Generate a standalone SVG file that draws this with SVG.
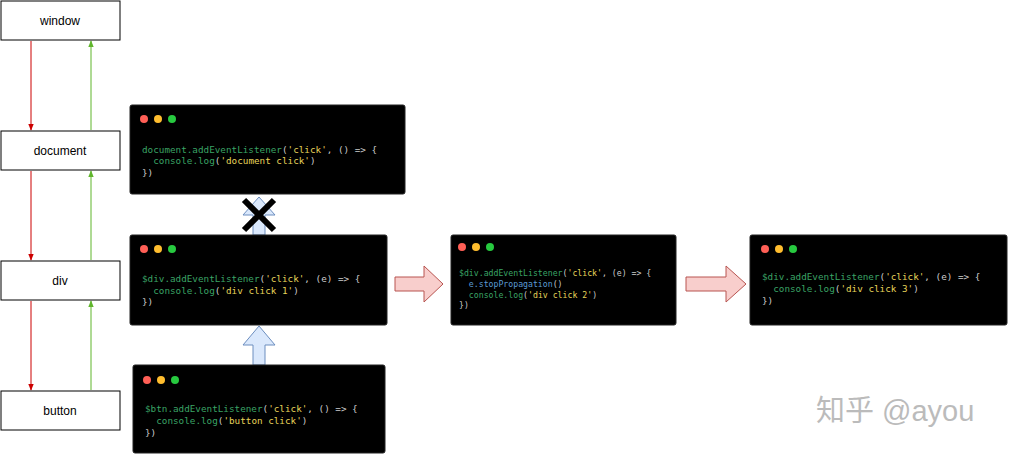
<svg xmlns="http://www.w3.org/2000/svg" width="1010" height="456" viewBox="0 0 1010 456">
<style>
.box{fill:#fff;stroke:#000;stroke-width:1}
.lbl{font-family:"Liberation Sans",Arial,sans-serif;font-size:12px;text-anchor:middle;fill:#000}
.code{fill:#000;stroke:#222}
.c{font-family:"DejaVu Sans Mono",monospace;font-size:9.3px;fill:#ccc}
.c2{font-family:"DejaVu Sans Mono",monospace;font-size:8.2px;fill:#ccc}
.g{fill:#3aa365}.y{fill:#e6d45a}.b{fill:#5b9bd5}
.up{fill:#dae8fc;stroke:#6c8ebf}
.rt{fill:#f8cecc;stroke:#b85450}
</style>
<defs>
<marker id="ar" viewBox="0 0 10 10" refX="9" refY="5" markerWidth="7" markerHeight="7" orient="auto"><path d="M0,1 L10,5 L0,9 z" fill="#c00"/></marker>
<marker id="ag" viewBox="0 0 10 10" refX="9" refY="5" markerWidth="7" markerHeight="7" orient="auto"><path d="M0,1 L10,5 L0,9 z" fill="#5fb52b"/></marker>
<g id="dots"><circle cx="0" cy="0" r="4" fill="#ff5f56"/><circle cx="14" cy="0" r="4" fill="#ffbd2e"/><circle cx="28" cy="0" r="4" fill="#27c93f"/></g>
</defs>
<g id="connectors">
<line x1="31" y1="41" x2="31" y2="130" stroke="#c00" marker-end="url(#ar)"/>
<line x1="31" y1="171" x2="31" y2="260" stroke="#c00" marker-end="url(#ar)"/>
<line x1="31" y1="301" x2="31" y2="390" stroke="#c00" marker-end="url(#ar)"/>
<line x1="91" y1="390" x2="91" y2="301" stroke="#5fb52b" marker-end="url(#ag)"/>
<line x1="91" y1="260" x2="91" y2="171" stroke="#5fb52b" marker-end="url(#ag)"/>
<line x1="91" y1="130" x2="91" y2="41" stroke="#5fb52b" marker-end="url(#ag)"/>
<path class="up" d="M253,365 V345 H243 L259,326 L275,345 H265 V365 Z"/>
<path class="up" d="M253,235 V215 H243 L259,197 L275,215 H265 V235 Z"/>
<path d="M244,200 L274,230 M274,200 L244,230" stroke="#000" stroke-width="6"/>
<path class="rt" d="M395,277 H424 V266 L443,284 L424,302 V291 H395 Z"/>
<path class="rt" d="M686,277 H726 V266 L746,284 L726,302 V291 H686 Z"/>
</g>
<g id="window"><rect class="box" x="1" y="1" width="119" height="39"/><text class="lbl" x="60" y="25">window</text></g>
<g id="document"><rect class="box" x="1" y="131" width="119" height="39"/><text class="lbl" x="60" y="155">document</text></g>
<g id="div"><rect class="box" x="1" y="261" width="119" height="39"/><text class="lbl" x="60" y="285">div</text></g>
<g id="button"><rect class="box" x="1" y="391" width="119" height="39"/><text class="lbl" x="60" y="415">button</text></g>
<g id="code-document"><rect class="code" x="130" y="105" width="275" height="89" rx="2"/><use href="#dots" x="144" y="119"/>
<text class="c" x="142" y="153"><tspan class="g">document.addEventListener</tspan>(<tspan class="y">'click'</tspan>, () =&gt; {</text>
<text class="c" x="142" y="164" xml:space="preserve">  <tspan class="g">console.log</tspan>(<tspan class="y">'document click'</tspan>)</text>
<text class="c" x="142" y="176">})</text></g>
<g id="code-div1"><rect class="code" x="130" y="235" width="257" height="90" rx="2"/><use href="#dots" x="144" y="249"/>
<text class="c" x="142" y="282"><tspan class="g">$div.addEventListener</tspan>(<tspan class="y">'click'</tspan>, (e) =&gt; {</text>
<text class="c" x="142" y="294" xml:space="preserve">  <tspan class="g">console.log</tspan>(<tspan class="y">'div click 1'</tspan>)</text>
<text class="c" x="142" y="305">})</text></g>
<g id="code-div2"><rect class="code" x="451" y="235" width="225" height="90" rx="2"/><use href="#dots" x="462" y="247"/>
<text class="c2" x="459" y="276"><tspan class="g">$div.addEventListener</tspan>(<tspan class="y">'click'</tspan>, (e) =&gt; {</text>
<text class="c2" x="459" y="287" xml:space="preserve">  <tspan class="b">e.stopPropagation</tspan>()</text>
<text class="c2" x="459" y="298" xml:space="preserve">  <tspan class="g">console.log</tspan>(<tspan class="y">'div click 2'</tspan>)</text>
<text class="c2" x="459" y="308">})</text></g>
<g id="code-div3"><rect class="code" x="750" y="235" width="257" height="90" rx="2"/><use href="#dots" x="765" y="249"/>
<text class="c" x="762" y="280"><tspan class="g">$div.addEventListener</tspan>(<tspan class="y">'click'</tspan>, (e) =&gt; {</text>
<text class="c" x="762" y="292" xml:space="preserve">  <tspan class="g">console.log</tspan>(<tspan class="y">'div click 3'</tspan>)</text>
<text class="c" x="762" y="304">})</text></g>
<g id="code-button"><rect class="code" x="133" y="365" width="252" height="88" rx="2"/><use href="#dots" x="147" y="380"/>
<text class="c" x="145" y="412"><tspan class="g">$btn.addEventListener</tspan>(<tspan class="y">'click'</tspan>, () =&gt; {</text>
<text class="c" x="145" y="424" xml:space="preserve">  <tspan class="g">console.log</tspan>(<tspan class="y">'button click'</tspan>)</text>
<text class="c" x="145" y="436">})</text></g>
<text x="816" y="421" font-family="'Liberation Sans','Noto Sans CJK SC',sans-serif" font-size="29" fill="#bbb">知乎 @ayou</text>
</svg>
